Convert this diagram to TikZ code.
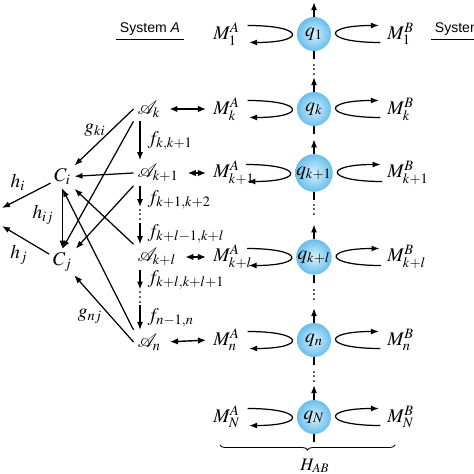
\documentclass[tikz,border=0pt]{standalone}
\usepackage{amsmath}
\usepackage{mathptmx}
\usepackage{fontspec}
\newfontfamily\sysfont{Liberation Sans}
\usepackage{xcolor}
\definecolor{qIn}{HTML}{D8F1FC}
\definecolor{qOut}{HTML}{68BEEC}
\usepackage{tikz}
\usetikzlibrary{arrows.meta,calc,decorations.pathreplacing}
\newcommand{\vdotz}{\vbox{\baselineskip=2.8pt\lineskiplimit=0pt\hbox{.}\hbox{.}\hbox{.}}}

\begin{document}
\begin{tikzpicture}[
  lbl/.style={inner sep=2pt,font=\fontsize{11}{13}\selectfont},
  qnode/.style={circle,minimum size=6.8mm,inner sep=0pt,shading=radial,
    inner color=qIn,outer color=qOut,font=\fontsize{11}{13}\selectfont},
  dotz/.style={inner sep=1pt},
  arr/.style={-{Latex[length=1.6mm,width=1.2mm]},line width=0.7pt},
  dbl/.style={{Latex[length=1.6mm,width=1.3mm]}-{Latex[length=1.6mm,width=1.3mm]},
    line width=0.8pt,shorten <=3pt,shorten >=2pt}]
  \useasboundingbox (0,0) rectangle (9.48,-9.48);
  \clip (0,0) rectangle (9.48,-9.48);
  % headings
  \node[inner sep=2pt,font=\sysfont\footnotesize] (sysA) at (3.0,-0.58) {System \textit{A}};
  \draw[line width=0.6pt] (sysA.south west)--(sysA.south east);
  \node[inner sep=2pt,font=\sysfont\footnotesize,anchor=west] (sysB) at (8.62,-0.58) {System \textit{B}};
  \draw[line width=0.6pt] (sysB.south west)--(sysB.south east);
  % coupled modes q and their M labels
  \foreach \nm/\y/\s in {1/-0.68/1,k/-2.18/k,k1/-3.46/{k+1},kl/-5.14/{k+l},n/-6.80/n,N/-8.34/N}{
    \node[qnode] (q\nm) at (6.28,\y) {$q_{\s}$};
    \node[lbl,anchor=west] (MA\nm) at (4.19,\y) {$M_{\s}^{A}$};
    \node[lbl,anchor=west] (MB\nm) at (7.67,\y) {$M_{\s}^{B}$};
    \draw[arr] ([shift={(-0.98,0.17)}]q\nm.west) .. controls +(1.15,0) and +(1.15,0) .. ([shift={(-0.95,-0.17)}]q\nm.west);
    \draw[arr] ([shift={(0.98,-0.17)}]q\nm.east) .. controls +(-1.15,0) and +(-1.15,0) .. ([shift={(0.95,0.17)}]q\nm.east);
    \draw[line width=0.7pt] (q\nm.south)--++(0,-0.15);
    \draw[arr] (q\nm.north)--++(0,0.29);
  }
  \node[dotz] (dq1) at (6.28,-1.40) {\vdotz};
  \node[dotz] (dq2) at (6.28,-4.20) {\vdotz};
  \node[dotz] (dq3) at (6.28,-5.90) {\vdotz};
  \node[dotz] (dq4) at (6.28,-7.54) {\vdotz};
  % system A chain
  \coordinate (colA) at (2.80,0);
  \node[lbl,anchor=west] (Ak) at (2.67,-2.18) {$\mathcal{A}_k$};
  \node[lbl,anchor=west] (Ak1) at (2.67,-3.46) {$\mathcal{A}_{k+1}$};
  \node[lbl,anchor=west] (Akl) at (2.67,-5.14) {$\mathcal{A}_{k+l}$};
  \node[lbl,anchor=west] (An) at (2.67,-6.84) {$\mathcal{A}_n$};
  \node[dotz] (dA1) at (2.80,-4.30) {\vdotz};
  \node[dotz] (dA2) at (2.80,-5.95) {\vdotz};
  \draw[arr] (Ak.south -| colA)--node[right,lbl,xshift=2pt]{$f_{k,k+1}$}(Ak1.north -| colA);
  \draw[arr] (Ak1.south -| colA)--node[right,lbl,xshift=2pt,yshift=-2pt]{$f_{k+1,k+2}$}(dA1.north);
  \draw[arr] (dA1.south)--node[right,lbl,xshift=2pt]{$f_{k+l-1,k+l}$}(Akl.north -| colA);
  \draw[arr] (Akl.south -| colA)--node[right,lbl,xshift=2pt]{$f_{k+l,k+l+1}$}(dA2.north);
  \draw[arr] (dA2.south)--node[right,lbl,xshift=2pt]{$f_{n-1,n}$}(An.north -| colA);
  \draw[dbl] (Ak.east)--(MAk.west);
  \draw[dbl] (Ak1.east)--(MAk1.west);
  \draw[dbl] (Akl.east)--(MAkl.west);
  \draw[dbl] (An.east)--(MAn.west);
  % outputs C
  \node[lbl] (Ci) at (1.25,-3.54) {$C_i$};
  \node[lbl] (Cj) at (1.25,-5.24) {$C_j$};
  \coordinate (outi) at (0.04,-4.16);
  \coordinate (outj) at (0.04,-4.52);
  \draw[arr] (Ak.west)--(Ci);
  \draw[arr] (Ak.south west)--(Cj.north);
  \draw[arr] (Ak1.west)--(Ci);
  \draw[arr] (Ak1.south west)--(Cj.north east);
  \draw[arr] (Akl.north west)--(Ci.south east);
  \draw[arr] (An.north west)--(Ci.south);
  \draw[arr] (An.west)--(Cj);
  \draw[arr] (Ci)--(Cj);
  \draw[arr] (Ci)--(outi);
  \draw[arr] (Cj)--(outj);
  \node[lbl] (gki) at (1.90,-2.60) {$g_{ki}$};
  \node[lbl] (gnj) at (1.80,-6.32) {$g_{nj}$};
  \node[lbl] (hi) at (0.36,-3.64) {$h_i$};
  \node[lbl] (hj) at (0.38,-5.10) {$h_j$};
  \node[lbl] (hij) at (0.86,-4.30) {$h_{ij}$};
  % coupling brace
  \coordinate (brL) at (4.40,-8.90);
  \coordinate (brR) at (7.90,-8.90);
  \draw[line width=0.5pt,decorate,decoration={brace,mirror,amplitude=0.1cm}] (brL)--(brR);
  \node[inner sep=0pt,anchor=base] (HAB) at (6.30,-9.40) {$H_{AB}$};
\end{tikzpicture}
\end{document}
